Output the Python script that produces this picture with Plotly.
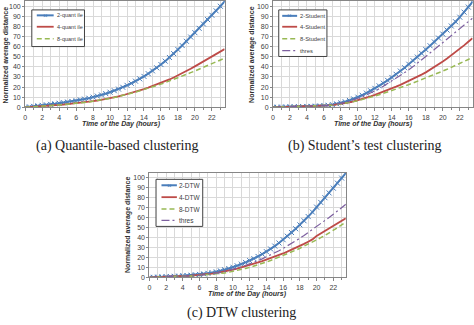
import plotly.graph_objects as go

W, H = 474, 325

hours = [i * 0.5 for i in range(48)]

# Panel (a) Quantile-based clustering
a_q2 = [0, 0.4, 0.9, 1.4, 1.9, 2.4, 2.9, 3.4, 4.0, 4.6, 5.2, 5.8, 6.5, 7.3, 8.1, 9.0,
        10.0, 11.1, 12.2, 13.5, 14.9, 16.4, 18.0, 19.8, 21.7, 23.7, 25.8, 28.1, 30.5, 33.2, 36.0, 39.0,
        42.2, 45.6, 49.2, 53.0, 57.0, 61.0, 65.2, 69.4, 73.7, 78.0, 82.3, 86.6, 90.9, 95.3, 99.8, 104.5]
a_q4 = [0, 0.2, 0.5, 0.8, 1.1, 1.4, 1.7, 2.0, 2.3, 2.7, 3.1, 3.5, 3.9, 4.4, 4.9, 5.4,
        6.0, 6.7, 7.4, 8.2, 9.0, 9.9, 10.9, 11.9, 13.0, 14.2, 15.4, 16.7, 18.0, 19.4, 20.9, 22.4,
        24.0, 25.7, 27.5, 29.4, 31.4, 33.5, 35.7, 38.0, 40.4, 42.8, 45.2, 47.6, 50.0, 52.5, 55.0, 57.5]
a_q8 = [0, 0.2, 0.5, 0.8, 1.1, 1.4, 1.7, 2.0, 2.3, 2.7, 3.0, 3.4, 3.8, 4.3, 4.8, 5.3,
        5.9, 6.5, 7.2, 8.0, 8.8, 9.7, 10.6, 11.6, 12.7, 13.8, 15.0, 16.2, 17.5, 18.8, 20.1, 21.5,
        22.9, 24.4, 25.9, 27.5, 29.1, 30.8, 32.5, 34.2, 35.9, 37.6, 39.4, 41.2, 43.0, 44.8, 46.6, 48.5]

# Panel (b) Student's test clustering
b_s2 = [0, 0.1, 0.2, 0.3, 0.4, 0.5, 0.6, 0.7, 0.8, 0.9, 1.1, 1.3, 1.6, 2.0, 2.6, 3.4,
        4.4, 5.5, 6.8, 8.3, 10.0, 11.9, 14.0, 16.3, 18.7, 21.2, 23.8, 26.6, 29.5, 32.6, 35.8, 39.1,
        42.5, 46.0, 49.6, 53.3, 57.0, 60.8, 64.6, 68.4, 72.3, 76.3, 80.3, 84.5, 89.0, 94.0, 99.0, 104.0]
b_s4 = [0, 0.1, 0.2, 0.3, 0.4, 0.5, 0.6, 0.7, 0.8, 0.9, 1.0, 1.2, 1.5, 1.8, 2.2, 2.7,
        3.3, 4.0, 4.8, 5.8, 6.9, 8.1, 9.4, 10.8, 12.3, 13.8, 15.4, 17.0, 18.7, 20.4, 22.2, 24.1,
        26.0, 28.0, 30.1, 32.3, 34.5, 37.0, 39.6, 42.3, 45.2, 48.2, 51.3, 54.5, 57.8, 61.2, 64.7, 68.2]
b_s8 = [0, 0.1, 0.2, 0.3, 0.4, 0.5, 0.6, 0.7, 0.8, 0.9, 1.0, 1.2, 1.4, 1.7, 2.1, 2.6,
        3.2, 3.9, 4.7, 5.6, 6.6, 7.6, 8.7, 9.9, 11.1, 12.4, 13.7, 15.1, 16.5, 17.9, 19.4, 20.9,
        22.4, 24.0, 25.6, 27.2, 28.9, 30.6, 32.3, 34.0, 35.8, 37.6, 39.4, 41.2, 43.1, 45.0, 47.2, 50.0]
b_thr = [0, 0.1, 0.2, 0.3, 0.4, 0.5, 0.6, 0.7, 0.8, 0.9, 1.0, 1.2, 1.5, 1.9, 2.4, 3.0,
         3.8, 4.7, 5.8, 7.2, 9.0, 10.6, 12.3, 14.1, 16.0, 18.3, 20.8, 23.4, 26.0, 28.7, 31.4, 34.2,
         37.0, 40.2, 43.4, 46.7, 50.0, 53.5, 57.0, 60.5, 64.0, 67.5, 71.0, 74.5, 78.0, 81.3, 84.6, 88.0]

# Panel (c) DTW clustering
c_d2 = [0, 0.1, 0.3, 0.5, 0.7, 0.9, 1.1, 1.3, 1.6, 1.9, 2.2, 2.6, 3.0, 3.5, 4.1, 4.8,
        5.6, 6.6, 7.7, 8.9, 10.2, 11.7, 13.3, 15.0, 16.8, 18.8, 21.0, 23.3, 25.8, 28.5, 31.4, 34.5,
        37.8, 41.3, 45.0, 48.8, 52.7, 56.8, 61.0, 65.5, 70.5, 75.2, 79.9, 84.7, 89.5, 94.5, 99.6, 104.5]
c_d4 = [0, 0.1, 0.2, 0.3, 0.5, 0.7, 0.9, 1.1, 1.3, 1.5, 1.8, 2.1, 2.4, 2.8, 3.3, 3.8,
        4.4, 5.1, 5.9, 6.8, 7.8, 8.9, 10.0, 11.2, 12.4, 13.7, 15.0, 16.4, 17.8, 19.3, 20.8, 22.4,
        24.0, 25.8, 27.6, 29.5, 31.5, 33.6, 35.8, 38.1, 41.5, 44.0, 46.6, 49.2, 51.8, 54.3, 56.8, 59.3]
c_d8 = [0, 0.1, 0.2, 0.3, 0.4, 0.5, 0.7, 0.9, 1.1, 1.3, 1.5, 1.7, 2.0, 2.3, 2.6, 3.0,
        3.4, 3.9, 4.5, 5.2, 6.0, 6.9, 7.9, 9.0, 10.1, 11.3, 12.6, 14.0, 15.4, 16.9, 18.5, 20.1,
        21.8, 23.6, 25.4, 27.3, 29.2, 31.2, 33.3, 35.4, 37.6, 39.8, 42.1, 44.5, 47.0, 49.8, 52.6, 55.5]
c_thr = [0, 0.1, 0.2, 0.3, 0.4, 0.5, 0.7, 0.9, 1.1, 1.3, 1.5, 1.8, 2.1, 2.5, 3.0, 3.6,
         4.3, 5.1, 6.0, 7.0, 8.1, 9.3, 10.6, 12.0, 13.5, 15.1, 16.8, 18.6, 20.5, 22.5, 24.6, 26.8,
         29.1, 31.5, 34.0, 36.6, 39.3, 42.1, 45.0, 47.9, 50.9, 53.9, 57.0, 60.1, 63.3, 66.6, 69.9, 73.3]

x_ticks = list(range(0, 24, 2))
y_ticks = list(range(0, 101, 10))

legend_a = ["2-quant ile", "4-quant ile", "8-quant ile"]
legend_b = ["2-Student", "4-Student", "8-Student", "thres"]
legend_c = ["2-DTW", "4-DTW", "8-DTW", "thres"]

BLUE, RED, GREEN, PURPLE = "#4a7ebb", "#be4b48", "#98b954", "#7d60a0"
STYLE = {
    "2": dict(color=BLUE, width=2),
    "4": dict(color=RED, width=1.8),
    "8": dict(color=GREEN, width=1.5, dash="5px,3px"),
    "t": dict(color=PURPLE, width=1.2, dash="8px,3px,2px,3px"),
}

fig = go.Figure()

def add_series(xa, ya, name, y, kind):
    common = dict(x=hours, y=y, name=name, xaxis=xa, yaxis=ya, showlegend=False,
                  line=STYLE[kind])
    if kind == "2":
        fig.add_trace(go.Scatter(mode="lines+markers",
                                 marker=dict(symbol="x-thin", size=5, line=dict(color=BLUE, width=1)),
                                 **common))
    else:
        fig.add_trace(go.Scatter(mode="lines", **common))

for name, y, k in zip(legend_a, [a_q2, a_q4, a_q8], ["2", "4", "8"]):
    add_series("x", "y", name, y, k)
for name, y, k in zip(legend_b, [b_s2, b_s4, b_s8, b_thr], ["2", "4", "8", "t"]):
    add_series("x2", "y2", name, y, k)
for name, y, k in zip(legend_c, [c_d2, c_d4, c_d8, c_thr], ["2", "4", "8", "t"]):
    add_series("x3", "y3", name, y, k)

TICKFONT = dict(family="Liberation Sans", size=7, color="#404040")

def xaxis(domain, anchor):
    return dict(domain=domain, anchor=anchor, range=[0, 23.5], tickvals=x_ticks,
                showgrid=True, gridcolor="#d9d9d9", gridwidth=1,
                minor=dict(dtick=1, tick0=0, showgrid=True, gridcolor="#d9d9d9", ticks="outside", ticklen=2, tickcolor="#868686"),
                ticks="outside", ticklen=3, tickcolor="#868686",
                showline=True, linecolor="#868686", linewidth=1, mirror=True,
                tickfont=TICKFONT, zeroline=False)

def yaxis(domain, anchor):
    return dict(domain=domain, anchor=anchor, range=[0, 105], tickvals=y_ticks,
                showgrid=True, gridcolor="#d9d9d9", gridwidth=1,
                ticks="outside", ticklen=2, tickcolor="#868686",
                showline=True, linecolor="#868686", linewidth=1, mirror=True,
                tickfont=TICKFONT, zeroline=False)

fig.update_layout(
    width=W, height=H, margin=dict(l=0, r=0, t=0, b=0),
    paper_bgcolor="white", plot_bgcolor="white", showlegend=False,
    xaxis=xaxis([0.0492, 0.4726], "y"), yaxis=yaxis([0.6668, 0.9969], "x"),
    xaxis2=xaxis([0.5753, 0.999], "y2"), yaxis2=yaxis([0.6668, 0.9969], "x2"),
    xaxis3=xaxis([0.3129, 0.7300], "y3"), yaxis3=yaxis([0.1385, 0.4637], "x3"),
)

def px(xp, yp):
    return xp / W, 1 - yp / H

ytitle = "<b>Normalized average distance</b>"
xtitle = "<b><i>Time of the Day (hours)</i></b>"
AXF = dict(family="Liberation Sans", size=7, color="#303030")
CAPF = dict(family="Liberation Serif", size=14, color="#222222")

anns = []
shapes = []
for (xp, yp) in [(5, 55), (252, 55), (127, 227)]:
    ax_, ay_ = px(xp, yp)
    anns.append(dict(x=ax_, y=ay_, xref="paper", yref="paper", text=ytitle, textangle=-90,
                     showarrow=False, font=AXF, xanchor="center", yanchor="middle"))
for (xp, yp) in [(120, 125), (374, 125), (247, 297)]:
    ax_, ay_ = px(xp, yp)
    anns.append(dict(x=ax_, y=ay_, xref="paper", yref="paper", text=xtitle,
                     showarrow=False, font=AXF, xanchor="center", yanchor="middle"))
for (xp, yp, t) in [(116, 147, "(a) Quantile-based clustering"),
                    (365, 147, "(b) Student’s test clustering"),
                    (241, 316, "(c) DTW clustering")]:
    ax_, ay_ = px(xp, yp)
    anns.append(dict(x=ax_, y=ay_, xref="paper", yref="paper", text=t,
                     showarrow=False, font=CAPF, xanchor="center", yanchor="middle"))

# Legend boxes (drawn as layout decoration)
def draw_legend(box, rows, names, kinds, lx0, lx1, tx, fsize):
    legf = dict(family="Liberation Sans", size=fsize, color="#404040")
    x0, y0, x1, y1 = box
    bx0, by0 = px(x0, y0)
    bx1, by1 = px(x1, y1)
    shapes.append(dict(type="rect", xref="paper", yref="paper", x0=bx0, x1=bx1, y0=by1, y1=by0,
                       line=dict(color="#404040", width=1), fillcolor="white", layer="above"))
    for yy, name, k in zip(rows, names, kinds):
        sx0, sy = px(lx0, yy)
        sx1, _ = px(lx1, yy)
        shapes.append(dict(type="line", xref="paper", yref="paper", x0=sx0, x1=sx1, y0=sy, y1=sy,
                           line=STYLE[k], layer="above"))
        if k == "2":
            mx, _ = px((lx0 + lx1) / 2, yy)
            anns.append(dict(x=mx, y=sy, xref="paper", yref="paper", text="×", showarrow=False,
                             font=dict(family="Liberation Sans", size=8, color=BLUE),
                             xanchor="center", yanchor="middle"))
        tx_, _ = px(tx, yy)
        anns.append(dict(x=tx_, y=sy, xref="paper", yref="paper", text=name, showarrow=False,
                         font=legf, xanchor="left", yanchor="middle"))

draw_legend((30, 10, 83, 47), [15.5, 27, 39], legend_a, ["2", "4", "8"], 35, 52, 53, 5.5)
draw_legend((278.5, 10, 327, 57), [16, 27, 39, 51], legend_b, ["2", "4", "8", "t"], 282, 297, 297.5, 5.8)
draw_legend((155, 181, 202, 228.5), [187, 199, 211, 222.5], legend_c, ["2", "4", "8", "t"], 160.5, 176, 176.5, 6.5)

fig.update_layout(annotations=anns, shapes=shapes)

fig.write_html("out.html")
